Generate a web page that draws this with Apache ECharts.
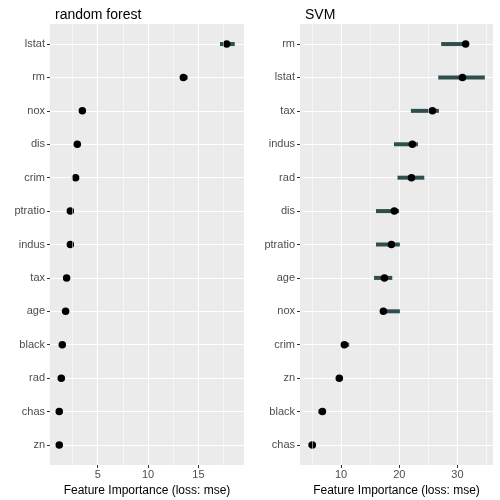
<!DOCTYPE html>
<html>
<head>
<meta charset="utf-8">
<script src="https://cdn.jsdelivr.net/npm/echarts@6/dist/echarts.min.js"></script>
<style>
  html, body { margin: 0; padding: 0; background: #fff; }
  #chart { width: 500px; height: 500px; }
</style>
</head>
<body>
<div id="chart"></div>
<script>
// random forest panel (top to bottom)
const rfFeatures = ['lstat', 'rm', 'nox', 'dis', 'crim', 'ptratio', 'indus', 'tax', 'age', 'black', 'rad', 'chas', 'zn'];
const rfValue = [17.8, 13.5, 3.47, 2.97, 2.8, 2.28, 2.28, 1.91, 1.81, 1.48, 1.38, 1.18, 1.18];
const rfLow   = [17.14, 13.3, 3.35, 2.85, 2.7, 2.18, 2.18, 1.8, 1.7, 1.38, 1.28, 1.08, 1.08];
const rfHigh  = [18.6, 13.93, 3.6, 3.1, 2.9, 2.4, 2.4, 2.0, 1.9, 1.58, 1.48, 1.28, 1.28];

// SVM panel (top to bottom)
const svmFeatures = ['rm', 'lstat', 'tax', 'indus', 'rad', 'dis', 'ptratio', 'age', 'nox', 'crim', 'zn', 'black', 'chas'];
const svmValue = [31.4, 30.85, 25.7, 22.25, 22.1, 19.15, 18.65, 17.45, 17.27, 10.57, 9.7, 6.8, 5.07];
const svmLow   = [27.2, 26.7, 22.0, 19.1, 19.7, 16.0, 16.0, 15.67, 17.0, 10.3, 9.5, 6.1, 4.4];
const svmHigh  = [31.5, 34.7, 26.8, 23.2, 24.3, 19.97, 20.1, 18.8, 20.1, 11.4, 9.9, 6.9, 5.3];

// axis ticks
const rfTicks = [5, 10, 15];
const rfMinor = [2.5, 7.5, 12.5, 17.5];
const svmTicks = [10, 20, 30];
const svmMinor = [5, 15, 25, 35];

const GREY_BG = '#EBEBEB';
const BAR_COL = '#2F4F4F';
const FONT = 'Liberation Sans, Arial, sans-serif';

let myChart = echarts.init(document.getElementById('chart'), null, { renderer: 'canvas' });

function idxList(arr) {
	return arr.map((d, i) => i);
}

function makeX(gridIndex, min, max, ticks) {
	return {
		type: 'value',
		gridIndex: gridIndex,
		min: min,
		max: max,
		name: 'Feature Importance (loss: mse)',
		nameLocation: 'middle',
		nameGap: 17,
		nameTextStyle: { color: '#000', fontSize: 12, fontFamily: FONT },
		axisLine: { show: false, onZero: false },
		axisTick: { show: true, length: 3, customValues: ticks, lineStyle: { color: '#333', width: 1 } },
		axisLabel: { customValues: ticks, color: '#4D4D4D', fontSize: 11, fontFamily: FONT, margin: 4 },
		splitLine: { show: true, lineStyle: { color: '#fff', width: 1.1 } }
	};
}

function makeY(gridIndex, cats) {
	return {
		type: 'value',
		gridIndex: gridIndex,
		inverse: true,
		min: -0.6,
		max: cats.length - 1 + 0.6,
		axisLine: { show: false, onZero: false },
		axisTick: { show: true, length: 3, customValues: idxList(cats), lineStyle: { color: '#333', width: 1 } },
		axisLabel: {
			customValues: idxList(cats),
			color: '#4D4D4D', fontSize: 11, fontFamily: FONT, margin: 5,
			formatter: function (v) { return cats[Math.round(v)]; }
		},
		splitLine: { show: true, lineStyle: { color: '#fff', width: 1.1 } }
	};
}

// 误差条
function rangeSeries(axisIndex, low, high) {
	return {
		type: 'custom',
		xAxisIndex: axisIndex,
		yAxisIndex: axisIndex,
		z: 3,
		silent: true,
		encode: { x: [0, 1], y: 2 },
		data: low.map((v, i) => [v, high[i], i]),
		renderItem: function (params, api) {
			let a = api.coord([api.value(0), api.value(2)]);
			let b = api.coord([api.value(1), api.value(2)]);
			return {
				type: 'line',
				shape: { x1: a[0], y1: a[1], x2: b[0], y2: b[1] },
				style: { stroke: BAR_COL, lineWidth: 4, lineCap: 'butt' }
			};
		}
	};
}

function pointSeries(axisIndex, vals) {
	return {
		type: 'scatter',
		xAxisIndex: axisIndex,
		yAxisIndex: axisIndex,
		z: 4,
		symbolSize: 7.5,
		itemStyle: { color: '#000', opacity: 1 },
		data: vals.map((v, i) => [v, i])
	};
}

// minor grid lines
function minorSeries(axisIndex, minor) {
	return {
		type: 'scatter',
		xAxisIndex: axisIndex,
		yAxisIndex: axisIndex,
		z: 1,
		symbolSize: 0,
		silent: true,
		data: minor.map(v => [v, 0]),
		markLine: {
			silent: true,
			symbol: 'none',
			animation: false,
			label: { show: false },
			lineStyle: { color: '#fff', width: 0.55, type: 'solid', opacity: 1 },
			data: minor.map(v => ({ xAxis: v }))
		}
	};
}

let option = {
	animation: false,
	backgroundColor: '#fff',
	title: [
		{ text: 'random forest', left: 50, top: 3, textStyle: { fontSize: 14, fontWeight: 'normal', color: '#000', fontFamily: FONT } },
		{ text: 'SVM', left: 300, top: 3, textStyle: { fontSize: 14, fontWeight: 'normal', color: '#000', fontFamily: FONT } }
	],
	grid: [
		{ left: 50, right: 256, top: 24, bottom: 35, show: true, backgroundColor: GREY_BG, borderWidth: 0, outerBoundsMode: 'none' },
		{ left: 300, right: 7, top: 24, bottom: 35, show: true, backgroundColor: GREY_BG, borderWidth: 0, outerBoundsMode: 'none' }
	],
	xAxis: [
		makeX(0, 0.26, 19.52, rfTicks),
		makeX(1, 2.95, 36.1, svmTicks)
	],
	yAxis: [
		makeY(0, rfFeatures),
		makeY(1, svmFeatures)
	],
	series: [
		minorSeries(0, rfMinor),
		minorSeries(1, svmMinor),
		rangeSeries(0, rfLow, rfHigh),
		rangeSeries(1, svmLow, svmHigh),
		pointSeries(0, rfValue),
		pointSeries(1, svmValue)
	]
};

myChart.setOption(option);
</script>
</body>
</html>
